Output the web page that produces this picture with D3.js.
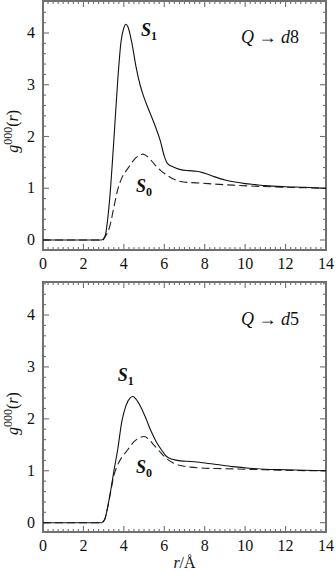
<!DOCTYPE html>
<html>
<head>
<meta charset="utf-8">
<script src="https://cdn.jsdelivr.net/npm/d3@7/dist/d3.min.js"></script>
<style>
  html, body { margin: 0; padding: 0; background: #fff; }
  svg { display: block; }
</style>
</head>
<body>
<svg id="chart" width="336" height="571"></svg>
<script>
// Radial distribution functions g000(r) for two transitions
const xTicks = [0, 2, 4, 6, 8, 10, 12, 14];
const yTicks = [0, 1, 2, 3, 4];

// Panel: Q -> d8
const d8S1r = [0, 2.9, 3.0, 3.1, 3.2, 3.3, 3.5, 3.7, 3.85, 4.0, 4.1, 4.2, 4.4, 4.6, 4.8, 5.0, 5.3, 5.6, 5.8, 6.0, 6.15, 6.4, 6.8, 7.2, 7.6, 8.0, 8.5, 9.0, 9.5, 10, 10.5, 11, 12, 13, 14];
const d8S1g = [0, 0, 0.03, 0.12, 0.4, 0.8, 1.9, 3.1, 3.8, 4.1, 4.17, 4.12, 3.8, 3.35, 3.0, 2.75, 2.45, 2.15, 1.92, 1.62, 1.48, 1.42, 1.36, 1.34, 1.33, 1.29, 1.22, 1.16, 1.12, 1.09, 1.07, 1.05, 1.03, 1.02, 1.0];
const d8S0r = [0, 2.95, 3.1, 3.3, 3.5, 3.7, 3.9, 4.1, 4.3, 4.5, 4.7, 4.95, 5.2, 5.5, 5.8, 6.1, 6.4, 6.8, 7.3, 7.8, 8.5, 9.4, 10.5, 12, 14];
const d8S0g = [0, 0, 0.08, 0.26, 0.62, 0.98, 1.2, 1.33, 1.44, 1.55, 1.62, 1.66, 1.6, 1.47, 1.35, 1.26, 1.19, 1.13, 1.11, 1.1, 1.08, 1.06, 1.04, 1.02, 1.0];

// Panel: Q -> d5
const d5S1r = [0, 2.9, 3.05, 3.2, 3.35, 3.5, 3.7, 3.9, 4.1, 4.3, 4.45, 4.6, 4.85, 5.1, 5.35, 5.6, 5.85, 6.1, 6.4, 6.8, 7.3, 7.8, 8.6, 9.4, 10.2, 11, 12, 14];
const d5S1g = [0, 0, 0.06, 0.3, 0.62, 0.98, 1.42, 1.95, 2.25, 2.4, 2.43, 2.38, 2.22, 2.0, 1.76, 1.56, 1.41, 1.28, 1.22, 1.19, 1.18, 1.16, 1.12, 1.08, 1.05, 1.03, 1.02, 1.0];
const d5S0r = [0, 2.9, 3.05, 3.2, 3.35, 3.5, 3.7, 3.9, 4.1, 4.3, 4.5, 4.75, 5.0, 5.25, 5.5, 5.8, 6.1, 6.4, 6.8, 7.3, 8.0, 9.0, 10, 11, 12, 14];
const d5S0g = [0, 0, 0.06, 0.3, 0.6, 0.9, 1.12, 1.26, 1.36, 1.46, 1.56, 1.63, 1.66, 1.6, 1.49, 1.36, 1.24, 1.16, 1.1, 1.07, 1.05, 1.04, 1.03, 1.02, 1.01, 1.0];

const panels = [
  { title: "d8", s1r: d8S1r, s1g: d8S1g, s0r: d8S0r, s0g: d8S0g,
    y0: 240, y4: 33, top: 1, bottom: 250,
    s1Lbl: [4.85, 3.95], s0Lbl: [4.6, 0.93], titlePos: [9.8, 3.8], showAxisTitle: false },
  { title: "d5", s1r: d5S1r, s1g: d5S1g, s0r: d5S0r, s0g: d5S0g,
    y0: 522.7, y4: 315, top: 282, bottom: 532,
    s1Lbl: [3.7, 2.73], s0Lbl: [4.6, 0.95], titlePos: [9.8, 3.8], showAxisTitle: true }
];

const serif = "'Liberation Serif', 'Times New Roman', Times, serif";
const svg = d3.select("#chart").attr("font-family", serif);
const left = 43, right = 326;
const x = d3.scaleLinear().domain([0, 14]).range([left, right]);
const frameColor = "#707070";

panels.forEach(p => {
  const y = d3.scaleLinear().domain([0, 4]).range([p.y0, p.y4]);
  const g = svg.append("g");

  // tick marks on all four sides, pointing inward
  const xMinor = d3.range(0, 14.001, 0.25);
  const yMinor = d3.range(-0.2, 4.61, 0.2).filter(v => y(v) > p.top + 1 && y(v) < p.bottom - 1);
  const tickG = g.append("g").attr("stroke", frameColor).attr("stroke-width", 1.1);
  xMinor.forEach(v => {
    const len = Math.abs(v % 2) < 1e-6 ? 6 : 3;
    tickG.append("line").attr("x1", x(v)).attr("x2", x(v)).attr("y1", p.bottom).attr("y2", p.bottom - len);
    tickG.append("line").attr("x1", x(v)).attr("x2", x(v)).attr("y1", p.top).attr("y2", p.top + len);
  });
  yMinor.forEach(v => {
    const major = Math.abs(v - Math.round(v)) < 1e-6;
    const len = major ? 6 : 3;
    tickG.append("line").attr("x1", left).attr("x2", left + len).attr("y1", y(v)).attr("y2", y(v));
    tickG.append("line").attr("x1", right).attr("x2", right - len).attr("y1", y(v)).attr("y2", y(v));
  });

  // frame
  g.append("rect")
    .attr("x", left).attr("y", p.top)
    .attr("width", right - left).attr("height", p.bottom - p.top)
    .attr("fill", "none").attr("stroke", frameColor).attr("stroke-width", 2);

  // tick labels
  g.selectAll(".xl").data(xTicks).enter().append("text")
    .attr("x", d => x(d)).attr("y", p.bottom + 19)
    .attr("text-anchor", "middle").attr("font-size", 16).attr("fill", "#111")
    .text(d => d);
  g.selectAll(".yl").data(yTicks).enter().append("text")
    .attr("x", left - 8).attr("y", d => y(d) + 5)
    .attr("text-anchor", "end").attr("font-size", 16).attr("fill", "#111")
    .text(d => d);

  // curves
  const line = d3.line().x(d => x(d[0])).y(d => y(d[1])).curve(d3.curveMonotoneX);
  g.append("path")
    .datum(p.s0r.map((r, i) => [r, p.s0g[i]]))
    .attr("d", line).attr("fill", "none").attr("stroke", "#222")
    .attr("stroke-width", 1.1).attr("stroke-dasharray", "8,4");
  g.append("path")
    .datum(p.s1r.map((r, i) => [r, p.s1g[i]]))
    .attr("d", line).attr("fill", "none").attr("stroke", "#111")
    .attr("stroke-width", 1.1);

  // curve labels
  const lbl = (pos, sub) => {
    const t = g.append("text").attr("x", x(pos[0])).attr("y", y(pos[1]))
      .attr("font-size", 18).attr("font-weight", "bold").attr("font-style", "italic").attr("fill", "#111");
    t.append("tspan").text("S");
    t.append("tspan").attr("dy", 4).attr("font-size", 12).attr("font-style", "normal").text(sub);
  };
  lbl(p.s1Lbl, "1");
  lbl(p.s0Lbl, "0");

  // transition label
  const tt = g.append("text").attr("x", x(p.titlePos[0])).attr("y", y(p.titlePos[1]))
    .attr("font-size", 18).attr("fill", "#111");
  tt.append("tspan").attr("font-style", "italic").text("Q");
  tt.append("tspan").text(" \u2192 ");
  tt.append("tspan").attr("font-style", "italic").text("d");
  tt.append("tspan").text(p.title.slice(1));

  // y-axis title
  const yt = g.append("text")
    .attr("transform", `translate(18,${y(2.1)}) rotate(-90)`)
    .attr("text-anchor", "middle").attr("font-size", 16).attr("fill", "#111");
  yt.append("tspan").attr("font-style", "italic").text("g");
  yt.append("tspan").attr("dy", -6).attr("font-size", 12).text("000");
  yt.append("tspan").attr("dy", 6).text("(");
  yt.append("tspan").attr("font-style", "italic").text("r");
  yt.append("tspan").text(")");

  if (p.showAxisTitle) {
    const xt = g.append("text").attr("x", x(7)).attr("y", p.bottom + 36)
      .attr("text-anchor", "middle").attr("font-size", 16).attr("fill", "#111");
    xt.append("tspan").attr("font-style", "italic").text("r");
    xt.append("tspan").text("/\u00C5");
  }
});
</script>
</body>
</html>
